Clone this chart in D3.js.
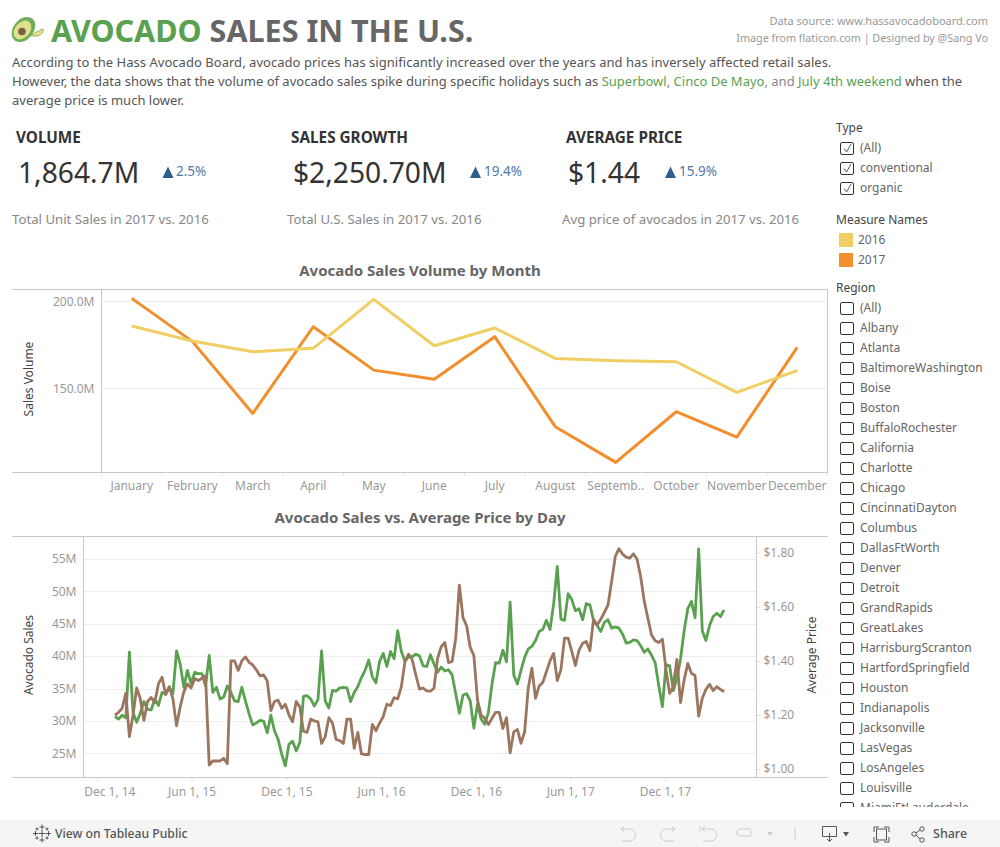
<!DOCTYPE html>
<meta charset="utf-8">
<script src="https://d3js.org/d3.v7.min.js"></script>

<style>
body { margin: 0; background: #fff; overflow: hidden; }
svg { display: block; }
text { font-family: "Noto Sans", sans-serif; }
.axis text { font-size: 12px; fill: #999; }
.axisTitle { font-size: 12px; fill: #444; text-anchor: middle; }
.chartTitle { font-size: 15px; font-weight: 700; fill: #666; text-anchor: middle; }
.kpiHead { font-size: 15.3px; font-weight: 700; fill: #333; }
.kpiValue { font-size: 28.2px; fill: #333; }
.kpiDelta { font-size: 13.5px; fill: #4e79a7; }
.kpiNote { font-size: 13.2px; fill: #888; }
.intro { font-size: 13px; fill: #555; }
.filterHead { font-size: 12px; fill: #444; }
.filterItem { font-size: 12px; fill: #666; }
.frame { stroke: #c8c8c8; stroke-width: 1; fill: none; shape-rendering: crispEdges; }
.grid { stroke: #eeeeee; stroke-width: 1; shape-rendering: crispEdges; }
</style>

<div id="dash"></div>

<script>

// monthly volume, millions
const months = ["January","February","March","April","May","June","July","August","September","October","November","December"];
const monthLabels = ["January","February","March","April","May","June","July","August","Septemb..","October","November","December"];
const volume2016 = [185.8,177.2,171,173,201.1,174.5,184.7,167.2,165.9,165.3,147.7,160.3];
const volume2017 = [201.7,177,135.6,185.4,160.5,155.2,179.7,128,107.5,136.6,122,173.6];

// weekly sales (millions), first week is Jan 4 2015
const weeklySales = [
  30.7,30.3,30.9,30.5,40.6,31.3,29.8,31.2,33.0,31.8,31.7,33.4,32.4,34.4,34.2,35.2,34.2,40.8,38.8,35.2,
  37.8,35.8,37.5,37.3,37.3,35.4,40.1,34.4,35.2,33.4,33.7,35.4,34.4,33.1,33.0,35.2,33.1,31.1,29.4,29.7,
  30.1,30.0,28.2,30.9,28.5,27.2,24.9,23.1,26.4,26.9,25.4,26.7,33.8,33.9,33.4,32.3,33.3,40.8,33.1,32.0,
  34.7,34.6,35.1,35.2,35.1,33.0,34.4,35.3,36.7,37.8,39.4,36.8,35.9,39.2,40.4,38.4,40.7,39.6,43.9,40.7,
  39.2,39.9,39.9,40.3,40.0,38.5,38.4,40.2,38.8,37.5,38.3,37.7,37.9,37.1,34.2,31.2,34.0,34.2,33.1,28.9,
  32.6,30.3,29.5,31.3,35.7,39.0,38.9,40.9,39.1,48.3,37.1,35.7,37.8,39.8,41.1,41.5,42.4,43.8,44.1,45.5,
  44.1,48.0,53.8,45.7,45.5,49.6,48.7,47.0,47.3,45.6,48.1,47.9,45.5,44.7,43.8,45.2,45.6,44.3,44.5,44.3,
  43.4,42.0,42.1,42.5,42.4,41.6,40.6,41.1,40.1,39.0,35.4,32.2,38.7,38.5,34.7,36.5,39.6,43.9,47.3,48.4,
  45.9,56.5,43.9,42.4,44.7,46.1,46.6,46.1,47.1
];

// weekly average price, dollars
const weeklyPrice = [
  1.20,1.21,1.225,1.28,1.12,1.20,1.30,1.26,1.18,1.25,1.265,1.245,1.315,1.34,1.275,1.305,1.26,1.16,1.23,1.285,
  1.315,1.30,1.335,1.327,1.336,1.345,1.015,1.03,1.03,1.03,1.04,1.02,1.40,1.40,1.365,1.40,1.415,1.395,1.385,1.367,
  1.345,1.348,1.327,1.216,1.25,1.255,1.225,1.24,1.20,1.175,1.25,1.23,1.14,1.136,1.185,1.178,1.175,1.095,1.12,1.19,
  1.17,1.11,1.105,1.095,1.185,1.185,1.077,1.136,1.056,1.054,1.054,1.165,1.142,1.17,1.194,1.24,1.235,1.264,1.26,1.305,
  1.398,1.425,1.404,1.348,1.296,1.30,1.289,1.288,1.299,1.41,1.453,1.468,1.394,1.398,1.484,1.68,1.56,1.53,1.45,1.42,
  1.255,1.20,1.188,1.165,1.188,1.21,1.21,1.15,1.19,1.06,1.138,1.147,1.095,1.138,1.30,1.373,1.262,1.307,1.32,1.36,
  1.40,1.428,1.327,1.367,1.484,1.484,1.435,1.383,1.44,1.465,1.472,1.438,1.554,1.533,1.554,1.58,1.607,1.694,1.786,1.815,
  1.795,1.784,1.78,1.796,1.777,1.712,1.62,1.558,1.496,1.475,1.468,1.48,1.367,1.28,1.305,1.406,1.246,1.33,1.391,1.354,
  1.346,1.196,1.262,1.295,1.314,1.29,1.305,1.295,1.286
];

const salesTicks = [25,30,35,40,45,50,55];
const priceTicks = [1.0,1.2,1.4,1.6,1.8];

const typeItems = ["(All)","conventional","organic"];
const measureItems = ["2016","2017"];
const regionItems = ["(All)","Albany","Atlanta","BaltimoreWashington","Boise","Boston","BuffaloRochester","California","Charlotte","Chicago","CincinnatiDayton","Columbus","DallasFtWorth","Denver","Detroit","GrandRapids","GreatLakes","HarrisburgScranton","HartfordSpringfield","Houston","Indianapolis","Jacksonville","LasVegas","LosAngeles","Louisville","MiamiFtLauderdale"];

const kpiHeads = ["VOLUME","SALES GROWTH","AVERAGE PRICE"];
const kpiValues = ["1,864.7M","$2,250.70M","$1.44"];
const kpiDeltas = ["2.5%","19.4%","15.9%"];
const kpiNotes = ["Total Unit Sales in 2017 vs. 2016","Total U.S. Sales in 2017 vs. 2016","Avg price of avocados in 2017 vs. 2016"];

const green = "#59a14f", brown = "#9c755f", yellow = "#f1ce63", orange = "#f28e2b";

const svg = d3.select("#dash").append("svg")
  .attr("width", 1000)
  .attr("height", 847);

// header
const icon = svg.append("g");
icon.append("path").attr("d", "M31 35 C36 33 41 29 43 29 C44 33 39 37 33 36 Z").attr("fill", "#f2e08f").attr("stroke", "#86b85c").attr("stroke-width", 1);
icon.append("ellipse").attr("cx", 23.5).attr("cy", 29.5).attr("rx", 14).attr("ry", 10).attr("transform", "rotate(-50 23.5 29.5)").attr("fill", "#6fae5a");
icon.append("ellipse").attr("cx", 22.5).attr("cy", 30).attr("rx", 10.5).attr("ry", 7.5).attr("transform", "rotate(-50 22.5 30)").attr("fill", "#dfe08a");
icon.append("circle").attr("cx", 22).attr("cy", 31.5).attr("r", 3.8).attr("fill", "#7d5f45");

const title = svg.append("text").attr("x", 51).attr("y", 42).attr("font-size", 30.5).attr("font-weight", 700);
title.append("tspan").attr("fill", green).text("AVOCADO");
title.append("tspan").attr("fill", "#666").text(" SALES IN THE U.S.");

svg.append("text").attr("x", 988).attr("y", 25).attr("text-anchor", "end").attr("font-size", 11).attr("fill", "#999").text("Data source: www.hassavocadoboard.com");
svg.append("text").attr("x", 988).attr("y", 42).attr("text-anchor", "end").attr("font-size", 10.75).attr("fill", "#999").text("Image from flaticon.com | Designed by @Sang Vo");

svg.append("text").attr("class", "intro").attr("x", 12).attr("y", 67).attr("letter-spacing", 0.035)
  .text("According to the Hass Avocado Board, avocado prices has significantly increased over the years and has inversely affected retail sales.");
const line2 = svg.append("text").attr("class", "intro").attr("x", 12).attr("y", 86);
line2.append("tspan").text("However, the data shows that the volume of avocado sales spike during specific holidays such as ");
line2.append("tspan").attr("fill", green).text("Superbowl");
line2.append("tspan").attr("fill", "#888").text(", ");
line2.append("tspan").attr("fill", green).text("Cinco De Mayo");
line2.append("tspan").attr("fill", "#888").text(", and ");
line2.append("tspan").attr("fill", green).text("July 4th weekend");
line2.append("tspan").text(" when the");
svg.append("text").attr("class", "intro").attr("x", 12).attr("y", 105).text("average price is much lower.");

// kpi blocks
const triX = [168, 475.5, 670.5], deltaX = [176, 484, 679];
const kpi = svg.append("g").selectAll("g").data(kpiHeads).enter().append("g");
kpi.append("text").attr("class", "kpiHead").attr("x", (d, i) => 16 + i * 275).attr("y", 143).text(d => d);
kpi.append("text").attr("class", "kpiValue").attr("x", (d, i) => 18 + i * 275).attr("y", 183).text((d, i) => kpiValues[i]);
kpi.append("path").attr("d", (d, i) => `M${triX[i] - 5.5} 178 L${triX[i]} 166.5 L${triX[i] + 5.5} 178 Z`).attr("fill", "#2c5f8f");
kpi.append("text").attr("class", "kpiDelta").attr("x", (d, i) => deltaX[i]).attr("y", 176).text((d, i) => kpiDeltas[i]);
kpi.append("text").attr("class", "kpiNote").attr("x", (d, i) => 12 + i * 275).attr("y", 224).text((d, i) => kpiNotes[i]);

// month chart
svg.append("text").attr("class", "chartTitle").attr("x", 420).attr("y", 276).text("Avocado Sales Volume by Month");

const x1 = d3.scaleBand().domain(months).range([101.5, 827.5]);
const y1 = d3.scaleLinear().domain([101.7, 206.8]).range([472.5, 289.5]);

svg.append("g").selectAll("line").data([150, 200]).enter().append("line")
  .attr("class", "grid")
  .attr("x1", 101.5).attr("x2", 827.5)
  .attr("y1", d => Math.round(y1(d)) + 0.5).attr("y2", d => Math.round(y1(d)) + 0.5);

svg.append("g").attr("class", "axis").attr("transform", "translate(101.5,0)")
  .call(d3.axisLeft(y1).tickValues([150, 200]).tickSize(0).tickPadding(7).tickFormat(d => d.toFixed(1) + "M"))
  .call(g => g.select(".domain").remove());

svg.append("g").attr("class", "axis").attr("transform", "translate(0,472.5)")
  .call(d3.axisBottom(x1).tickSize(0).tickPadding(9).tickFormat((d, i) => monthLabels[i]))
  .call(g => g.select(".domain").remove());

// ticks sit on the band borders here
svg.append("g").selectAll("line").data(months.concat("end")).enter().append("line")
  .attr("x1", (d, i) => i < 12 ? x1(d) : x1.range()[1])
  .attr("x2", (d, i) => i < 12 ? x1(d) : x1.range()[1])
  .attr("y1", 472.5).attr("y2", 476)
  .attr("stroke", "#e2e2e2");

svg.append("path").attr("class", "frame")
  .attr("d", "M12 289.5 H827.5 V472.5 H12 M101.5 289.5 V472.5");

const line1 = d3.line().x((d, i) => x1(months[i]) + x1.bandwidth() / 2).y(d => y1(d));
svg.append("path").datum(volume2017).attr("d", line1)
  .attr("fill", "none").attr("stroke", orange).attr("stroke-width", 3).attr("stroke-linejoin", "round");
svg.append("path").datum(volume2016).attr("d", line1)
  .attr("fill", "none").attr("stroke", yellow).attr("stroke-width", 3).attr("stroke-linejoin", "round");

svg.append("text").attr("class", "axisTitle").attr("transform", "translate(33,379) rotate(-90)").text("Sales Volume");

// daily chart
svg.append("text").attr("class", "chartTitle").attr("x", 420).attr("y", 523).text("Avocado Sales vs. Average Price by Day");

const weeks = d3.timeWeek.range(new Date(2015, 0, 4), new Date(2018, 2, 26));
const x2 = d3.scaleTime().domain([new Date(2014, 11, 1), new Date(2017, 11, 1)]).range([97.3, 665]);
const ySales = d3.scaleLinear().domain([21.3, 58.42]).range([777.5, 536.5]);
const yPrice = d3.scaleLinear().domain([0.969, 1.86]).range([777.5, 536.5]);

svg.append("g").selectAll("line").data(salesTicks).enter().append("line")
  .attr("class", "grid")
  .attr("x1", 83.5).attr("x2", 756.5)
  .attr("y1", d => Math.round(ySales(d)) + 0.5).attr("y2", d => Math.round(ySales(d)) + 0.5);

svg.append("g").attr("class", "axis").attr("transform", "translate(83.5,0)")
  .call(d3.axisLeft(ySales).tickValues(salesTicks).tickSize(0).tickPadding(7).tickFormat(d => d + "M"))
  .call(g => g.select(".domain").remove());

svg.append("g").attr("class", "axis").attr("transform", "translate(756.5,0)")
  .call(d3.axisRight(yPrice).tickValues(priceTicks).tickSize(4).tickPadding(3).tickFormat(d => "$" + d.toFixed(2)))
  .call(g => g.select(".domain").remove())
  .call(g => g.selectAll("line").attr("stroke", "#ddd"));

// light month ticks, then the labelled six month ones
svg.append("g").attr("transform", "translate(0,777.5)")
  .call(d3.axisBottom(x2).ticks(d3.timeMonth.every(1)).tickSize(2).tickFormat(""))
  .call(g => g.select(".domain").remove())
  .call(g => g.selectAll("line").attr("stroke", "#eee"));
svg.append("g").attr("class", "axis").attr("transform", "translate(0,777.5)")
  .call(d3.axisBottom(x2).tickValues(d3.timeMonth.range(new Date(2014, 11, 1), new Date(2018, 0, 1), 6))
    .tickSize(3).tickPadding(7).tickFormat(d3.timeFormat("%b %-d, %y")))
  .call(g => g.select(".domain").remove())
  .call(g => g.selectAll("line").attr("stroke", "#ddd"))
  // first label is pushed right so it clears the axis line
  .call(g => g.selectAll("text").filter((d, i) => i === 0).attr("dx", 12));

svg.append("path").attr("class", "frame")
  .attr("d", "M12 536.5 H827.5 M12 777.5 H827.5 M83.5 536.5 V777.5 M756.5 536.5 V777.5");

svg.append("path").datum(weeklySales)
  .attr("d", d3.line().x((d, i) => x2(weeks[i])).y(d => ySales(d)))
  .attr("fill", "none").attr("stroke", green).attr("stroke-width", 2.8).attr("stroke-linejoin", "round");
svg.append("path").datum(weeklyPrice)
  .attr("d", d3.line().x((d, i) => x2(weeks[i])).y(d => yPrice(d)))
  .attr("fill", "none").attr("stroke", brown).attr("stroke-width", 2.8).attr("stroke-linejoin", "round");

svg.append("text").attr("class", "axisTitle").attr("transform", "translate(33,655) rotate(-90)").text("Avocado Sales");
svg.append("text").attr("class", "axisTitle").attr("transform", "translate(816,655) rotate(-90)").text("Average Price");

// filters on the right
function filterList(parent, items, top, checked) {
  const row = parent.append("g").selectAll("g").data(items).enter().append("g")
    .attr("transform", (d, i) => `translate(0,${top + i * 20})`);
  row.append("rect").attr("x", 840.5).attr("y", -5.5).attr("width", 13).attr("height", 12).attr("rx", 1.5)
    .attr("fill", "#fff").attr("stroke", "#333");
  if (checked) {
    row.append("path").attr("d", "M844 0.5 L846.5 4 L851 -4").attr("fill", "none").attr("stroke", "#444").attr("stroke-width", 0.9);
  }
  row.append("text").attr("class", "filterItem").attr("x", 860).attr("y", 3.8).text(d => d);
}

svg.append("text").attr("class", "filterHead").attr("x", 836).attr("y", 132).text("Type");
filterList(svg, typeItems, 148, true);

svg.append("text").attr("class", "filterHead").attr("x", 836).attr("y", 224).text("Measure Names");
const legend = svg.append("g").selectAll("g").data(measureItems).enter().append("g")
  .attr("transform", (d, i) => `translate(0,${240 + i * 20})`);
legend.append("rect").attr("x", 839).attr("y", -7).attr("width", 14).attr("height", 14)
  .attr("fill", (d, i) => i ? orange : yellow);
legend.append("text").attr("class", "filterItem").attr("x", 858).attr("y", 3.8).text(d => d);

svg.append("text").attr("class", "filterHead").attr("x", 836).attr("y", 292).text("Region");
svg.append("clipPath").attr("id", "regionClip").append("rect").attr("x", 830).attr("y", 298).attr("width", 170).attr("height", 509);
filterList(svg.append("g").attr("clip-path", "url(#regionClip)"), regionItems, 308, false);

// tableau toolbar
svg.append("rect").attr("x", 0).attr("y", 820).attr("width", 1000).attr("height", 27).attr("fill", "#f5f5f5");

const logo = svg.append("g").attr("stroke", "#444").attr("stroke-width", 0.9).attr("fill", "none");
[[42,827,2.5],[42,840,2.5],[35.5,833.5,2.5],[48.5,833.5,2.5],[42,833.5,3.5],[37,829,1.5],[47,829,1.5],[37,838,1.5],[47,838,1.5]].forEach(p => {
  logo.append("path").attr("d", `M${p[0] - p[2]} ${p[1]} H${p[0] + p[2]} M${p[0]} ${p[1] - p[2]} V${p[1] + p[2]}`);
});
svg.append("text").attr("x", 55).attr("y", 838).attr("font-size", 12.2).attr("font-weight", 500).attr("fill", "#555").text("View on Tableau Public");

const faint = svg.append("g").attr("fill", "none").attr("stroke", "#ccc").attr("stroke-width", 1);
faint.append("path").attr("d", "M621 829 H631 C637 830 637 841 630 841 H622 M621 829 L624 826.5 M621 829 L624 831.5");
faint.append("path").attr("d", "M675 829 H665 C659 830 659 841 666 841 H674 M675 829 L672 826.5 M675 829 L672 831.5");
faint.append("path").attr("d", "M702 829 H712 C718 830 718 841 711 841 H703 M702 829 L705 826.5 M702 829 L705 831.5 M700 826 V832");
faint.append("path").attr("d", "M751 829 H741 C735 830 735 836 741 836 H749 C752 836 752 831 750 830");
faint.append("path").attr("d", "M795 827 V840");
svg.append("path").attr("d", "M767 832 H773 L770 836 Z").attr("fill", "#ccc");

const dark = svg.append("g").attr("fill", "none").attr("stroke", "#555").attr("stroke-width", 1);
dark.append("path").attr("d", "M822.5 826.5 H836.5 V836.5 H822.5 Z M829.5 833 V841 M827 839 L829.5 841.5 L832 839");
svg.append("path").attr("d", "M843 832 H849 L846 836.5 Z").attr("fill", "#555");
dark.append("path").attr("d", "M874 832 V827 H879 M884 827 H889 V832 M889 837 V842 H884 M879 842 H874 V837");
dark.append("rect").attr("x", 876.5).attr("y", 829).attr("width", 10).attr("height", 11);
dark.append("circle").attr("cx", 914).attr("cy", 834).attr("r", 2.2);
dark.append("circle").attr("cx", 922).attr("cy", 829).attr("r", 2.2);
dark.append("circle").attr("cx", 922).attr("cy", 840).attr("r", 2.2);
dark.append("path").attr("d", "M916 833 L920 830 M916 835 L920 839");
svg.append("text").attr("x", 933).attr("y", 838).attr("font-size", 12.5).attr("font-weight", 500).attr("fill", "#555").text("Share");

</script>
